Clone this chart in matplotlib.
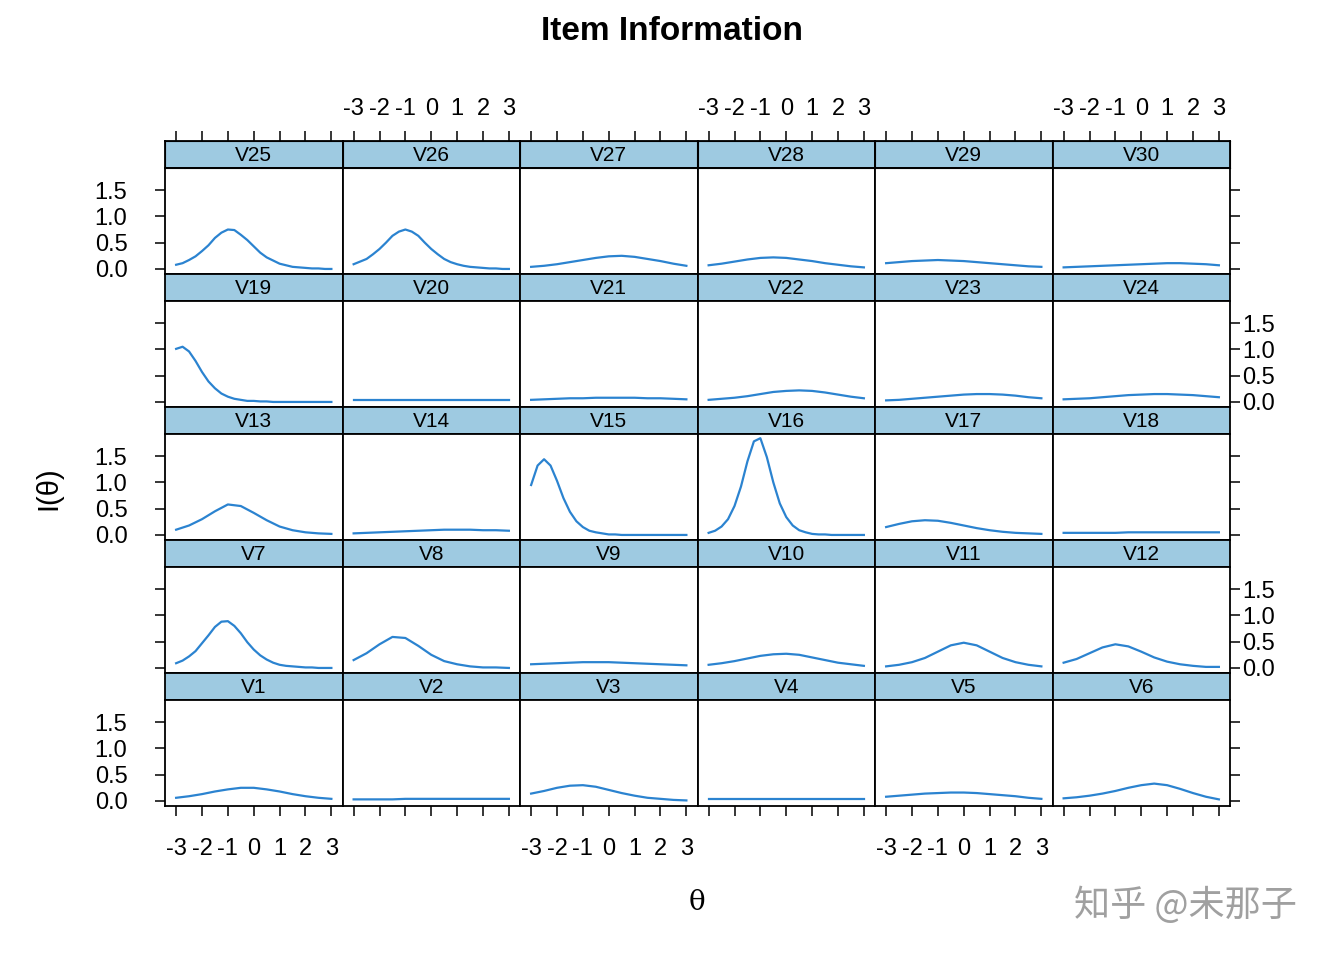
import numpy as np
import matplotlib
matplotlib.use('Agg')
import matplotlib.pyplot as plt

# theta grids: coarse for flat curves, finer for the peaked ones
theta = [-3.0, -2.5, -2.0, -1.5, -1.0, -0.5, 0.0, 0.5, 1.0, 1.5, 2.0, 2.5, 3.0]
theta_fine = [-3.0, -2.75, -2.5, -2.25, -2.0, -1.75, -1.5, -1.25, -1.0, -0.75, -0.5, -0.25, 0.0,
              0.25, 0.5, 0.75, 1.0, 1.25, 1.5, 1.75, 2.0, 2.25, 2.5, 2.75, 3.0]

# item information values
info = {
    'V1':  [0.06, 0.09, 0.13, 0.18, 0.22, 0.25, 0.25, 0.22, 0.18, 0.13, 0.09, 0.06, 0.04],
    'V2':  [0.03, 0.03, 0.03, 0.03, 0.04, 0.04, 0.04, 0.04, 0.04, 0.04, 0.04, 0.04, 0.04],
    'V3':  [0.14, 0.19, 0.25, 0.29, 0.30, 0.27, 0.21, 0.15, 0.10, 0.06, 0.04, 0.02, 0.01],
    'V4':  [0.04, 0.04, 0.04, 0.04, 0.04, 0.04, 0.04, 0.04, 0.04, 0.04, 0.04, 0.04, 0.04],
    'V5':  [0.08, 0.10, 0.12, 0.14, 0.15, 0.16, 0.16, 0.15, 0.13, 0.11, 0.09, 0.06, 0.04],
    'V6':  [0.05, 0.07, 0.10, 0.14, 0.19, 0.25, 0.30, 0.33, 0.30, 0.23, 0.15, 0.08, 0.03],
    'V7':  [0.09, 0.14, 0.22, 0.32, 0.47, 0.62, 0.78, 0.88, 0.89, 0.80, 0.66, 0.49, 0.35,
            0.24, 0.16, 0.10, 0.06, 0.04, 0.03, 0.02, 0.01, 0.01, 0.00, 0.00, 0.00],
    'V8':  [0.15, 0.28, 0.45, 0.59, 0.57, 0.42, 0.25, 0.13, 0.07, 0.03, 0.01, 0.01, 0.00],
    'V9':  [0.07, 0.08, 0.09, 0.10, 0.11, 0.11, 0.11, 0.10, 0.09, 0.08, 0.07, 0.06, 0.05],
    'V10': [0.06, 0.09, 0.13, 0.18, 0.23, 0.26, 0.27, 0.25, 0.20, 0.15, 0.10, 0.07, 0.04],
    'V11': [0.03, 0.06, 0.11, 0.19, 0.31, 0.43, 0.48, 0.43, 0.31, 0.19, 0.11, 0.06, 0.03],
    'V12': [0.10, 0.17, 0.28, 0.39, 0.45, 0.41, 0.31, 0.20, 0.12, 0.07, 0.04, 0.02, 0.02],
    'V13': [0.10, 0.18, 0.30, 0.45, 0.58, 0.55, 0.42, 0.28, 0.16, 0.09, 0.05, 0.03, 0.02],
    'V14': [0.03, 0.04, 0.05, 0.06, 0.07, 0.08, 0.09, 0.10, 0.10, 0.10, 0.09, 0.09, 0.08],
    'V15': [0.95, 1.32, 1.44, 1.32, 1.03, 0.70, 0.44, 0.26, 0.15, 0.08, 0.05, 0.03, 0.01,
            0.01, 0.00, 0.00, 0.00, 0.00, 0.00, 0.00, 0.00, 0.00, 0.00, 0.00, 0.00],
    'V16': [0.04, 0.08, 0.16, 0.30, 0.55, 0.92, 1.40, 1.78, 1.84, 1.48, 1.00, 0.60, 0.34,
            0.18, 0.09, 0.05, 0.02, 0.01, 0.01, 0.00, 0.00, 0.00, 0.00, 0.00, 0.00],
    'V17': [0.15, 0.21, 0.26, 0.28, 0.27, 0.23, 0.18, 0.13, 0.09, 0.06, 0.04, 0.03, 0.02],
    'V18': [0.04, 0.04, 0.04, 0.04, 0.04, 0.05, 0.05, 0.05, 0.05, 0.05, 0.05, 0.05, 0.05],
    'V19': [1.01, 1.05, 0.96, 0.78, 0.57, 0.39, 0.26, 0.16, 0.10, 0.06, 0.04, 0.02, 0.02,
            0.01, 0.01, 0.00, 0.00, 0.00, 0.00, 0.00, 0.00, 0.00, 0.00, 0.00, 0.00],
    'V20': [0.03, 0.03, 0.03, 0.03, 0.03, 0.03, 0.03, 0.03, 0.03, 0.03, 0.03, 0.03, 0.03],
    'V21': [0.04, 0.05, 0.06, 0.07, 0.07, 0.08, 0.08, 0.08, 0.08, 0.07, 0.07, 0.06, 0.05],
    'V22': [0.04, 0.06, 0.08, 0.11, 0.15, 0.19, 0.21, 0.22, 0.21, 0.18, 0.14, 0.10, 0.07],
    'V23': [0.03, 0.04, 0.06, 0.08, 0.10, 0.12, 0.14, 0.15, 0.15, 0.14, 0.12, 0.09, 0.07],
    'V24': [0.05, 0.06, 0.07, 0.09, 0.11, 0.13, 0.14, 0.15, 0.15, 0.14, 0.13, 0.11, 0.09],
    'V25': [0.08, 0.11, 0.17, 0.24, 0.34, 0.45, 0.59, 0.69, 0.75, 0.74, 0.65, 0.55, 0.43,
            0.31, 0.22, 0.16, 0.10, 0.07, 0.04, 0.03, 0.02, 0.01, 0.01, 0.00, 0.00],
    'V26': [0.09, 0.14, 0.19, 0.28, 0.38, 0.50, 0.63, 0.71, 0.75, 0.71, 0.63, 0.50, 0.38,
            0.28, 0.19, 0.13, 0.09, 0.06, 0.04, 0.03, 0.02, 0.01, 0.01, 0.00, 0.00],
    'V27': [0.04, 0.06, 0.09, 0.13, 0.17, 0.21, 0.24, 0.25, 0.23, 0.19, 0.15, 0.10, 0.06],
    'V28': [0.07, 0.10, 0.14, 0.18, 0.21, 0.22, 0.21, 0.18, 0.15, 0.11, 0.08, 0.05, 0.03],
    'V29': [0.11, 0.13, 0.15, 0.16, 0.17, 0.16, 0.15, 0.13, 0.11, 0.09, 0.07, 0.05, 0.04],
    'V30': [0.03, 0.04, 0.05, 0.06, 0.07, 0.08, 0.09, 0.10, 0.11, 0.11, 0.10, 0.09, 0.07],
}

# panel layout: top row first (lattice draws bottom-up)
rows = [
    ['V25', 'V26', 'V27', 'V28', 'V29', 'V30'],
    ['V19', 'V20', 'V21', 'V22', 'V23', 'V24'],
    ['V13', 'V14', 'V15', 'V16', 'V17', 'V18'],
    ['V7', 'V8', 'V9', 'V10', 'V11', 'V12'],
    ['V1', 'V2', 'V3', 'V4', 'V5', 'V6'],
]
xticks = [-3, -2, -1, 0, 1, 2, 3]
yticks = [0.0, 0.5, 1.0, 1.5]

W, H = 1344, 960
plt.rcParams['font.family'] = ['Liberation Sans', 'DejaVu Sans']
fig = plt.figure(figsize=(W / 100, H / 100), dpi=100)

x0, panel_w = 165, 177.5
top0, strip_h, row_h = 141, 27, 133
line_col = '#2B83D0'
strip_col = '#9ECAE1'
lab_size = 17

for r, names in enumerate(rows):
    for c, name in enumerate(names):
        left = x0 + c * panel_w
        stop = top0 + r * row_h
        # strip
        sax = fig.add_axes([left / W, 1 - (stop + strip_h) / H, panel_w / W, strip_h / H])
        sax.set_facecolor(strip_col)
        sax.set_xticks([]); sax.set_yticks([])
        for s in sax.spines.values():
            s.set_linewidth(1.3)
        sax.text(0.5, 0.45, name, ha='center', va='center', fontsize=15, transform=sax.transAxes)
        # panel
        ph = row_h - strip_h
        ax = fig.add_axes([left / W, 1 - (stop + strip_h + ph) / H, panel_w / W, ph / H])
        xs = theta_fine if len(info[name]) == len(theta_fine) else theta
        ax.plot(xs, info[name], color=line_col, lw=1.6)
        ax.set_xlim(-3.43, 3.43)
        ax.set_ylim(-0.096, 1.92)
        for s in ax.spines.values():
            s.set_linewidth(1.3)
        ax.tick_params(length=7, width=1.1, labelsize=lab_size)
        ax.set_xticks(xticks); ax.set_yticks(yticks)
        ax.set_xticklabels([]); ax.set_yticklabels([])
        ax.tick_params(axis='x', bottom=(r == 4), top=False, pad=16)
        ax.tick_params(axis='y', left=(c == 0), right=(c == 5))
        if r == 4 and c % 2 == 0:
            ax.set_xticklabels([str(t) for t in xticks])
        if c == 0 and r % 2 == 0:
            ax.tick_params(axis='y', pad=20)
            ax.set_yticklabels([f'{t:.1f}' for t in yticks])
        if c == 5 and r % 2 == 1:
            ax.yaxis.set_tick_params(labelright=True, labelleft=False, pad=2)
            ax.set_yticklabels([f'{t:.1f}' for t in yticks])
        if r == 0:
            # top ticks drawn above the strip
            sax.set_xlim(-3.43, 3.43)
            tax = sax.twiny()
            tax.set_xlim(-3.43, 3.43)
            tax.set_xticks(xticks)
            tax.tick_params(axis='x', length=7, width=1.1, labelsize=lab_size, pad=8)
            if c % 2 == 1:
                tax.set_xticklabels([str(t) for t in xticks])
            else:
                tax.set_xticklabels([])

fig.text(0.5, 1 - 32 / H, 'Item Information', ha='center', va='center', fontsize=24, fontweight='bold')
fig.text(697 / W, 1 - 902 / H, 'θ', ha='center', va='center', fontsize=20, family='DejaVu Serif')
fig.text(48 / W, 1 - 488 / H, 'I(θ)', ha='center', va='center', fontsize=21, rotation=90)
fig.text(1185 / W, 1 - 905 / H, '知乎 @未那子', ha='center', va='center', fontsize=26,
         color='#a0a0a0', family=['Noto Sans CJK SC', 'DejaVu Sans'])

fig.savefig('out.png', dpi=100)
